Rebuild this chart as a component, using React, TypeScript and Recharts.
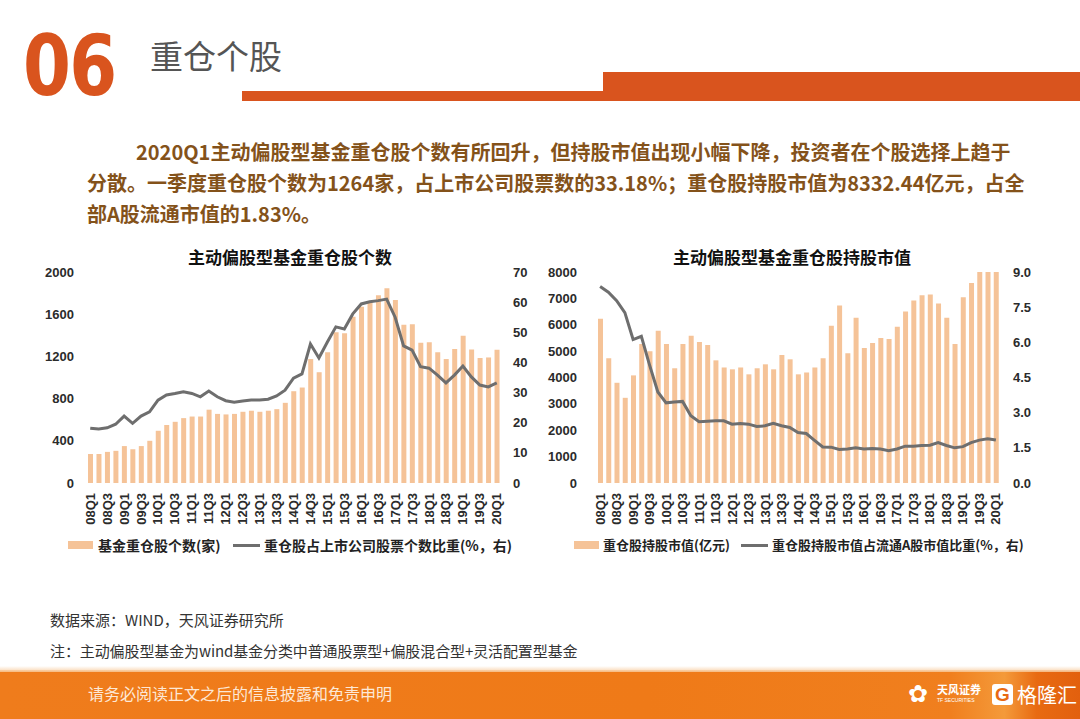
import React from "react";
import { ComposedChart, Bar, Line, XAxis, YAxis } from "recharts";

const QUARTERS = [
  "08Q1", "08Q2", "08Q3", "08Q4", "09Q1", "09Q2", "09Q3", "09Q4",
  "10Q1", "10Q2", "10Q3", "10Q4", "11Q1", "11Q2", "11Q3", "11Q4",
  "12Q1", "12Q2", "12Q3", "12Q4", "13Q1", "13Q2", "13Q3", "13Q4",
  "14Q1", "14Q2", "14Q3", "14Q4", "15Q1", "15Q2", "15Q3", "15Q4",
  "16Q1", "16Q2", "16Q3", "16Q4", "17Q1", "17Q2", "17Q3", "17Q4",
  "18Q1", "18Q2", "18Q3", "18Q4", "19Q1", "19Q2", "19Q3", "19Q4",
  "20Q1",
];

// 基金重仓股个数(家)
const STOCK_COUNT = [
  275, 275, 295, 305, 350, 320, 350, 400, 495, 550,
  580, 615, 630, 630, 695, 655, 650, 655, 675, 685,
  675, 685, 700, 760, 870, 905, 1175, 1050, 1240, 1430,
  1420, 1575, 1670, 1715, 1780, 1845, 1735, 1500, 1505, 1330,
  1335, 1240, 1175, 1270, 1395, 1265, 1185, 1190, 1264,
];

// 重仓股占上市公司股票个数比重(%)
const COUNT_RATIO = [
  18.2, 17.9, 18.3, 19.5, 22.2, 19.8, 22.2, 23.6, 27.5, 29.2,
  29.7, 30.3, 29.7, 28.6, 30.5, 28.6, 27.3, 26.8, 27.2, 27.5,
  27.5, 27.8, 28.9, 30.8, 34.8, 36.2, 46.1, 41.5, 46.8, 51.8,
  51.1, 56.1, 59.4, 60.1, 60.5, 61.0, 55.0, 45.5, 44.1, 38.6,
  38.1, 35.8, 33.2, 35.8, 38.8, 35.2, 32.5, 31.9, 33.18,
];

// 重仓股持股市值(亿元) - last bars run past the 8000 axis top
const HOLD_VALUE = [
  6230, 4730, 3800, 3230, 4080, 5270, 5000, 5770, 5270, 4350,
  5270, 5580, 5350, 5230, 4650, 4380, 4310, 4380, 4120, 4350,
  4500, 4310, 4850, 4690, 4120, 4190, 4380, 4730, 5960, 6730,
  4920, 6270, 5120, 5310, 5500, 5460, 5920, 6500, 6920, 7120,
  7150, 6810, 6270, 5270, 7040, 7580, 8150, 8600, 8332.44,
];

// 重仓股持股市值占流通A股市值比重(%)
const HOLD_RATIO = [
  8.38, 8.14, 7.78, 7.27, 6.12, 6.26, 5.03, 3.88, 3.42, 3.45,
  3.48, 2.87, 2.61, 2.63, 2.65, 2.65, 2.51, 2.54, 2.51, 2.41,
  2.44, 2.55, 2.44, 2.37, 2.15, 2.11, 1.82, 1.54, 1.53, 1.43,
  1.45, 1.5, 1.45, 1.47, 1.45, 1.38, 1.45, 1.57, 1.57, 1.6,
  1.61, 1.72, 1.6, 1.5, 1.55, 1.72, 1.83, 1.89, 1.83,
];

const COUNT_TICKS = [0, 400, 800, 1200, 1600, 2000];
const COUNT_RATIO_TICKS = [0, 10, 20, 30, 40, 50, 60, 70];
const VALUE_TICKS = [0, 1000, 2000, 3000, 4000, 5000, 6000, 7000, 8000];
const VALUE_RATIO_TICKS = [0, 1.5, 3, 4.5, 6, 7.5, 9];

const BAR_COLOR = "#F5C398";
const LINE_COLOR = "#6E6E6E";
const ORANGE = "#D9541E";
const TEXT_BROWN = "#84521A";

const CJK = "'Noto Sans CJK SC', 'Liberation Sans', sans-serif";
const NUM = "'Liberation Sans', 'Noto Sans CJK SC', sans-serif";

const countData = QUARTERS.map((q, i) => ({ q, count: STOCK_COUNT[i], ratio: COUNT_RATIO[i] }));
const valueData = QUARTERS.map((q, i) => ({ q, value: HOLD_VALUE[i], ratio: HOLD_RATIO[i] }));

const tickStyle = { fontFamily: NUM, fontWeight: "bold", fontSize: 13, fill: "#2b2b2b" };

function QuarterTick({ x, y, payload }: any) {
  return (
    <text
      x={x}
      y={y}
      transform={`rotate(-90 ${x} ${y})`}
      textAnchor="end"
      dominantBaseline="central"
      fontFamily={NUM}
      fontWeight="bold"
      fontSize={13}
      fill="#2b2b2b"
    >
      {payload.value}
    </text>
  );
}

function abs(left: number, top: number, extra: React.CSSProperties = {}): React.CSSProperties {
  return { position: "absolute", left, top, ...extra };
}

type LegendItem = { x: number; label: string; kind: "bar" | "line"; tx: number };

function LegendRow({ items, size }: { items: LegendItem[]; size: number }) {
  return (
    <>
      {items.map((it) => (
        <React.Fragment key={it.label}>
          {it.kind === "bar" ? (
            <div style={abs(it.x, 541, { width: 25, height: 8, background: BAR_COLOR })} />
          ) : (
            <div style={abs(it.x, 543.5, { width: 27, height: 3, background: LINE_COLOR })} />
          )}
          <div
            style={abs(it.tx, 535, {
              fontFamily: CJK,
              fontWeight: 700,
              fontSize: size,
              lineHeight: "20px",
              color: "#222",
              whiteSpace: "nowrap",
            })}
          >
            {it.label}
          </div>
        </React.Fragment>
      ))}
    </>
  );
}

export default function App() {
  return (
    <div
      style={{
        position: "absolute",
        left: 0,
        top: 0,
        width: 1080,
        height: 719,
        background: "#fff",
        overflow: "hidden",
        fontFamily: CJK,
      }}
    >
      {/* header */}
      <div
        style={abs(23, 18, {
          fontFamily: "'DejaVu Sans', sans-serif",
          fontWeight: 900,
          fontSize: 84,
          lineHeight: "96px",
          color: ORANGE,
          transform: "scaleX(0.82)",
          transformOrigin: "left top",
          letterSpacing: -2,
        })}
      >
        06
      </div>
      <div style={abs(150, 33, { fontSize: 33, lineHeight: "44px", color: "#555", whiteSpace: "nowrap" })}>
        重仓个股
      </div>
      <div style={abs(603, 72, { width: 477, height: 29, background: ORANGE })} />
      <div style={abs(242, 91, { width: 838, height: 10, background: ORANGE })} />

      {/* paragraph */}
      <div
        style={abs(136, 140, {
          width: 861,
          fontSize: 20,
          lineHeight: "24px",
          fontWeight: 700,
          color: TEXT_BROWN,
          whiteSpace: "nowrap",
          textAlign: "justify",
          textAlignLast: "justify",
        })}
      >
        2020Q1主动偏股型基金重仓股个数有所回升，但持股市值出现小幅下降，投资者在个股选择上趋于
      </div>
      <div
        style={abs(87, 171, {
          width: 910,
          fontSize: 20,
          lineHeight: "24px",
          fontWeight: 700,
          color: TEXT_BROWN,
          whiteSpace: "nowrap",
          textAlign: "justify",
          textAlignLast: "justify",
        })}
      >
        分散。一季度重仓股个数为1264家，占上市公司股票数的33.18%；重仓股持股市值为8332.44亿元，占全
      </div>
      <div
        style={abs(87, 202, {
          fontSize: 20,
          lineHeight: "24px",
          fontWeight: 700,
          color: TEXT_BROWN,
          whiteSpace: "nowrap",
        })}
      >
        部A股流通市值的1.83%。
      </div>

      {/* chart titles */}
      <div style={abs(140, 245, { width: 300, textAlign: "center", fontSize: 17, lineHeight: "24px", fontWeight: 700, color: "#111" })}>
        主动偏股型基金重仓股个数
      </div>
      <div style={abs(642, 245, { width: 300, textAlign: "center", fontSize: 17, lineHeight: "24px", fontWeight: 700, color: "#111" })}>
        主动偏股型基金重仓股持股市值
      </div>

      {/* left chart */}
      <div style={abs(0, 240)}>
        <ComposedChart width={540} height={300} data={countData} margin={{ top: 32, right: 0, bottom: 0, left: 0 }}>
          <XAxis
            dataKey="q"
            interval={1}
            height={57}
            tickSize={0}
            tickMargin={10}
            axisLine={false}
            tickLine={false}
            tick={<QuarterTick />}
          />
          <YAxis
            yAxisId="l"
            width={86}
            domain={[0, 2000]}
            ticks={COUNT_TICKS}
            axisLine={false}
            tickLine={false}
            tickSize={0}
            tickMargin={12}
            tick={tickStyle}
          />
          <YAxis
            yAxisId="r"
            orientation="right"
            width={39}
            domain={[0, 70]}
            ticks={COUNT_RATIO_TICKS}
            axisLine={false}
            tickLine={false}
            tickSize={0}
            tickMargin={12}
            tick={{ ...tickStyle, textAnchor: "start" }}
          />
          <Bar yAxisId="l" dataKey="count" fill={BAR_COLOR} barSize={5} isAnimationActive={false} />
          <Line
            yAxisId="r"
            dataKey="ratio"
            type="linear"
            stroke={LINE_COLOR}
            strokeWidth={3}
            dot={false}
            activeDot={false}
            isAnimationActive={false}
          />
        </ComposedChart>
      </div>

      {/* right chart */}
      <div style={abs(540, 240)}>
        <ComposedChart width={540} height={300} data={valueData} margin={{ top: 32, right: 0, bottom: 0, left: 0 }}>
          <XAxis
            dataKey="q"
            interval={1}
            height={57}
            tickSize={0}
            tickMargin={10}
            axisLine={false}
            tickLine={false}
            tick={<QuarterTick />}
          />
          <YAxis
            yAxisId="l"
            width={56}
            domain={[0, 8000]}
            allowDataOverflow
            ticks={VALUE_TICKS}
            axisLine={false}
            tickLine={false}
            tickSize={0}
            tickMargin={19}
            tick={tickStyle}
          />
          <YAxis
            yAxisId="r"
            orientation="right"
            width={80}
            domain={[0, 9]}
            ticks={VALUE_RATIO_TICKS}
            tickFormatter={(v: number) => v.toFixed(1)}
            axisLine={false}
            tickLine={false}
            tickSize={0}
            tickMargin={13}
            tick={{ ...tickStyle, textAnchor: "start" }}
          />
          <Bar yAxisId="l" dataKey="value" fill={BAR_COLOR} barSize={5} isAnimationActive={false} />
          <Line
            yAxisId="r"
            dataKey="ratio"
            type="linear"
            stroke={LINE_COLOR}
            strokeWidth={3}
            dot={false}
            activeDot={false}
            isAnimationActive={false}
          />
        </ComposedChart>
      </div>

      {/* legends */}
      <LegendRow
        size={14}
        items={[
          { x: 68, tx: 98, kind: "bar", label: "基金重仓股个数(家)" },
          { x: 233, tx: 264, kind: "line", label: "重仓股占上市公司股票个数比重(%，右)" },
        ]}
      />
      <LegendRow
        size={13}
        items={[
          { x: 574, tx: 603, kind: "bar", label: "重仓股持股市值(亿元)" },
          { x: 741, tx: 772, kind: "line", label: "重仓股持股市值占流通A股市值比重(%，右)" },
        ]}
      />

      {/* notes */}
      <div style={abs(50, 609, { fontSize: 15, lineHeight: "22px", color: "#333", whiteSpace: "nowrap" })}>
        数据来源：WIND，天风证券研究所
      </div>
      <div style={abs(50, 640, { fontSize: 15, lineHeight: "22px", color: "#333", whiteSpace: "nowrap", letterSpacing: -0.1 })}>
        注：主动偏股型基金为wind基金分类中普通股票型+偏股混合型+灵活配置型基金
      </div>

      {/* footer */}
      <div
        style={abs(0, 670, {
          width: 1080,
          height: 49,
          background:
            "linear-gradient(90deg, #EF7C1C 0%, #EF7A18 60%, #F07F1E 88%, #F49A3A 93%, #E86A12 96%, #E2600E 100%)",
        })}
      />
      <div
        style={abs(0, 666, {
          width: 1080,
          height: 6,
          background: "linear-gradient(180deg, rgba(255,255,255,1) 0%, rgba(248,200,150,0.8) 100%)",
        })}
      />
      <div style={abs(88, 682, { fontSize: 16, lineHeight: "22px", color: "#FDE8D6", whiteSpace: "nowrap" })}>
        请务必阅读正文之后的信息披露和免责申明
      </div>
      <div style={abs(908, 679, { fontFamily: "'DejaVu Sans', sans-serif", fontSize: 24, lineHeight: "30px", color: "#fff" })}>
        ✿
      </div>
      <div style={abs(937, 683, { fontSize: 11, lineHeight: "13px", fontWeight: 700, color: "#fff", whiteSpace: "nowrap" })}>
        天风证券
      </div>
      <div style={abs(937, 697, { fontFamily: NUM, fontSize: 5, lineHeight: "6px", color: "#fff", whiteSpace: "nowrap" })}>
        TF SECURITIES
      </div>
      <div
        style={abs(992, 684, {
          width: 21,
          height: 21,
          background: "#fff",
          borderRadius: 3,
          color: "#E86A12",
          fontFamily: NUM,
          fontWeight: 700,
          fontSize: 19,
          lineHeight: "21px",
          textAlign: "center",
        })}
      >
        G
      </div>
      <div style={abs(1017, 681, { fontSize: 20, lineHeight: "28px", color: "#fff", whiteSpace: "nowrap" })}>
        格隆汇
      </div>
    </div>
  );
}
